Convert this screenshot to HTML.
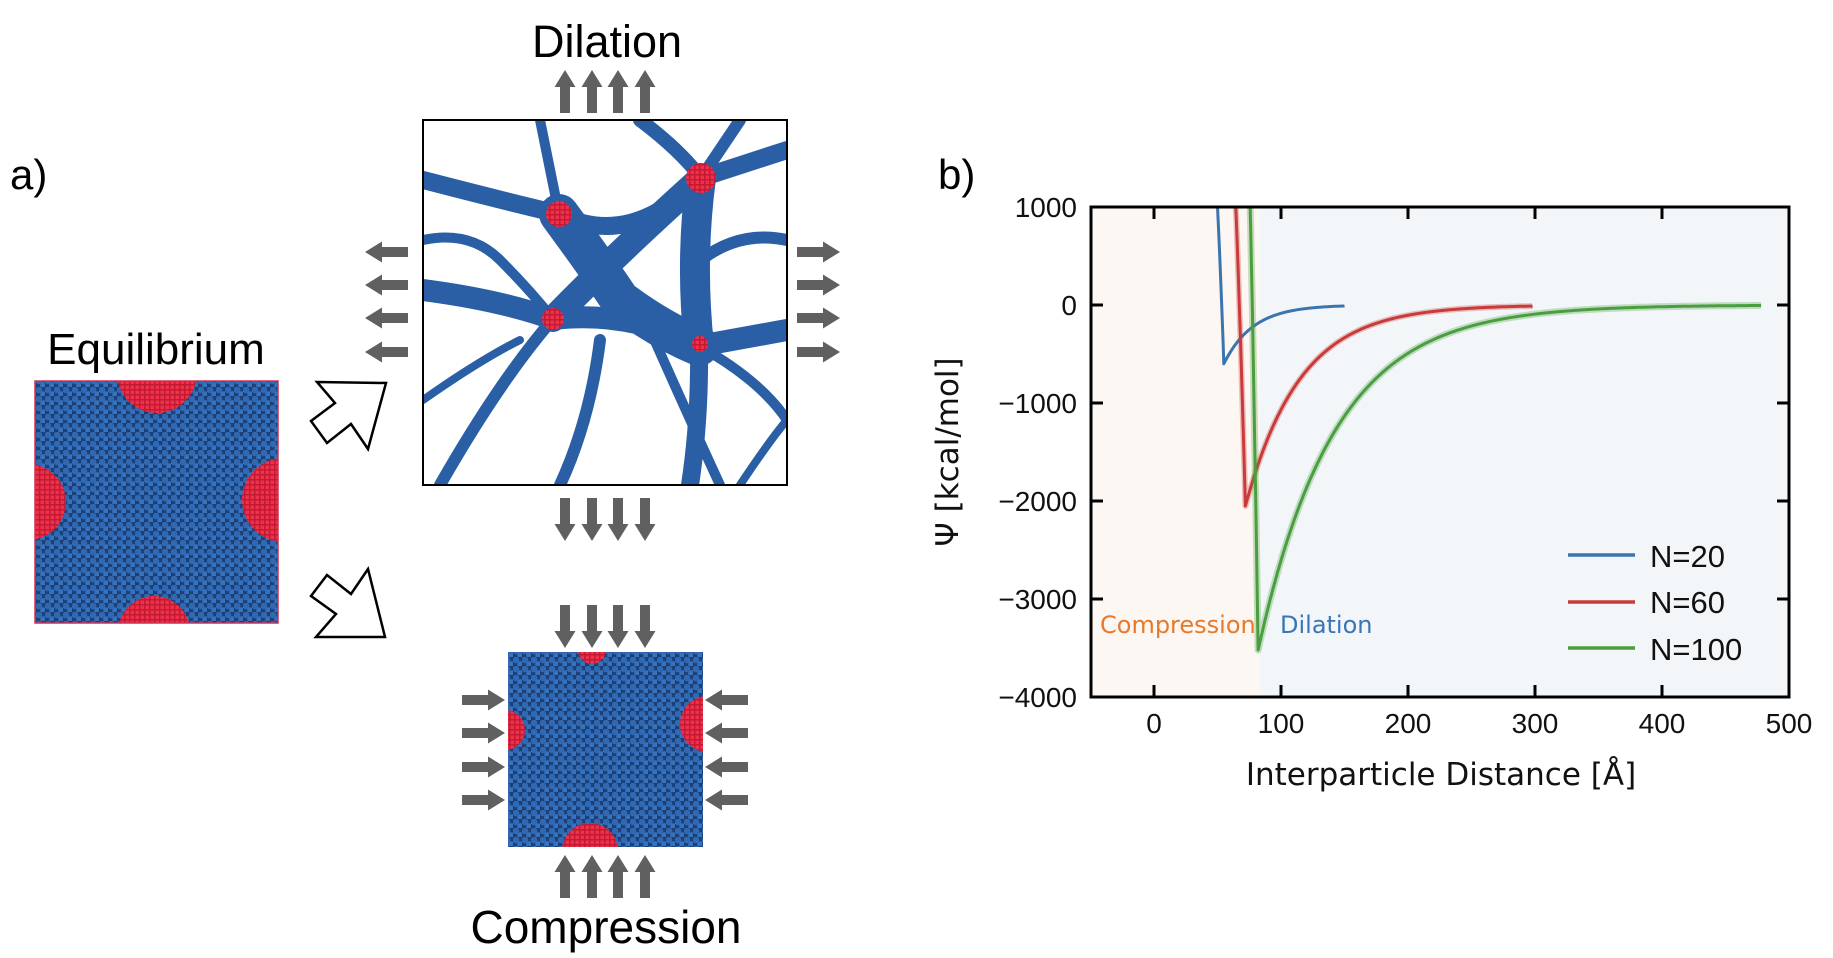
<!DOCTYPE html>
<html><head><meta charset="utf-8"><style>
html,body{margin:0;padding:0;background:#fff;}
svg{display:block;}
text{font-family:"Liberation Sans","DejaVu Sans",sans-serif;}
.t{font-family:"DejaVu Sans","Liberation Sans",sans-serif;}
</style></head><body>
<svg id="s" width="1833" height="958" viewBox="0 0 1833 958" xmlns="http://www.w3.org/2000/svg">
<defs>
<pattern id="dots" width="9" height="9" patternUnits="userSpaceOnUse">
<rect width="9" height="9" fill="#1d3f73"/>
<circle cx="3" cy="3" r="3.3" fill="#2f68b3"/>
<circle cx="7.5" cy="7.5" r="3.3" fill="#3572bf"/>
</pattern>
<pattern id="reddots" width="5" height="5" patternUnits="userSpaceOnUse">
<rect width="5" height="5" fill="#c21a35"/>
<rect x="0.5" y="0.5" width="3.5" height="3.5" fill="#ee3048"/>
</pattern>
<g id="au"><rect x="-5" y="15" width="10" height="28" fill="#606060"/><polygon points="-10.5,17 10.5,17 0,0" fill="#606060"/></g>
<clipPath id="c1"><rect x="35" y="381" width="243" height="242"/></clipPath>
<clipPath id="c2"><rect x="423" y="120" width="364" height="365"/></clipPath>
<clipPath id="c3"><rect x="508" y="652" width="195" height="195"/></clipPath>
<clipPath id="pc"><rect x="1091" y="207" width="698" height="490"/></clipPath>
</defs>

<!-- Panel a -->
<text x="10" y="189" font-size="42">a)</text>
<text x="156" y="364" font-size="44" text-anchor="middle">Equilibrium</text>
<text x="607" y="57" font-size="45" text-anchor="middle">Dilation</text>
<text x="606" y="943" font-size="46" text-anchor="middle">Compression</text>

<!-- equilibrium box -->
<g clip-path="url(#c1)">
<rect x="35" y="381" width="243" height="242" fill="url(#dots)"/>
<circle cx="157" cy="373" r="40" fill="url(#reddots)"/>
<circle cx="28" cy="502" r="38" fill="url(#reddots)"/>
<circle cx="284" cy="500" r="42" fill="url(#reddots)"/>
<circle cx="154" cy="632" r="36" fill="url(#reddots)"/>
</g>
<rect x="35" y="381" width="243" height="242" fill="none" stroke="#d03050" stroke-width="1.5"/>

<!-- dilation box -->
<rect x="423" y="120" width="364" height="365" fill="#fff"/>
<g clip-path="url(#c2)" fill="none" stroke="#2a5fa6" stroke-linecap="round">
<path d="M423 180 Q500 200 559 214 Q630 250 701 178 L787 150" stroke-width="18"/>
<path d="M423 290 Q500 300 553 319 Q630 310 699 346 L787 330" stroke-width="22"/>
<path d="M559 214 Q600 270 620 300 Q660 330 699 346" stroke-width="40"/>
<path d="M701 178 Q690 260 699 346" stroke-width="30"/>
<path d="M553 319 Q610 260 701 178" stroke-width="26"/>
<path d="M540 120 Q550 170 559 214" stroke-width="10"/>
<path d="M640 120 Q680 150 701 178" stroke-width="14"/>
<path d="M740 120 Q720 150 701 178" stroke-width="12"/>
<path d="M553 319 Q500 380 440 485" stroke-width="12"/>
<path d="M600 340 Q590 420 560 485" stroke-width="12"/>
<path d="M650 330 Q690 420 720 485" stroke-width="10"/>
<path d="M699 346 Q700 420 690 485" stroke-width="18"/>
<path d="M699 346 Q760 380 787 420" stroke-width="10"/>
<path d="M423 240 Q470 230 500 260 Q530 290 553 319" stroke-width="10"/>
<path d="M787 240 Q740 230 701 260" stroke-width="12"/>
<path d="M423 400 Q480 360 520 340" stroke-width="8"/>
<path d="M740 485 Q770 440 787 420" stroke-width="8"/>
</g>
<circle cx="559" cy="214" r="13" fill="url(#reddots)"/>
<circle cx="701" cy="178" r="15" fill="url(#reddots)"/>
<circle cx="553" cy="319" r="11" fill="url(#reddots)"/>
<circle cx="700" cy="344" r="8" fill="url(#reddots)"/>
<rect x="423" y="120" width="364" height="365" fill="none" stroke="#000" stroke-width="2"/>

<!-- compression box -->
<g clip-path="url(#c3)">
<rect x="508" y="652" width="195" height="195" fill="url(#dots)"/>
<circle cx="592" cy="650" r="14" fill="url(#reddots)"/>
<circle cx="505" cy="730" r="20" fill="url(#reddots)"/>
<circle cx="708" cy="724" r="28" fill="url(#reddots)"/>
<circle cx="590" cy="851" r="28" fill="url(#reddots)"/>
</g>

<!-- gray arrows -->
<g>
<use href="#au" x="565" y="70"/><use href="#au" x="592" y="70"/><use href="#au" x="618" y="70"/><use href="#au" x="645" y="70"/>
<use href="#au" transform="translate(565,541) rotate(180)"/><use href="#au" transform="translate(592,541) rotate(180)"/><use href="#au" transform="translate(618,541) rotate(180)"/><use href="#au" transform="translate(645,541) rotate(180)"/>
<use href="#au" transform="translate(365,252) rotate(-90)"/><use href="#au" transform="translate(365,285) rotate(-90)"/><use href="#au" transform="translate(365,318) rotate(-90)"/><use href="#au" transform="translate(365,352) rotate(-90)"/>
<use href="#au" transform="translate(840,252) rotate(90)"/><use href="#au" transform="translate(840,285) rotate(90)"/><use href="#au" transform="translate(840,318) rotate(90)"/><use href="#au" transform="translate(840,352) rotate(90)"/>
<use href="#au" transform="translate(565,648) rotate(180)"/><use href="#au" transform="translate(592,648) rotate(180)"/><use href="#au" transform="translate(618,648) rotate(180)"/><use href="#au" transform="translate(645,648) rotate(180)"/>
<use href="#au" x="565" y="855"/><use href="#au" x="592" y="855"/><use href="#au" x="618" y="855"/><use href="#au" x="645" y="855"/>
<use href="#au" transform="translate(505,700) rotate(90)"/><use href="#au" transform="translate(505,733) rotate(90)"/><use href="#au" transform="translate(505,767) rotate(90)"/><use href="#au" transform="translate(505,800) rotate(90)"/>
<use href="#au" transform="translate(705,700) rotate(-90)"/><use href="#au" transform="translate(705,733) rotate(-90)"/><use href="#au" transform="translate(705,767) rotate(-90)"/><use href="#au" transform="translate(705,800) rotate(-90)"/>
</g>

<!-- outline arrows -->
<g fill="#fff" stroke="#000" stroke-width="2.5" stroke-linejoin="miter">
<polygon points="317,382 386,383 368,449 351,424 327,443 311,421 335,403"/>
<polygon points="316,637 385,637 368,569 351,594 327,575 311,596 336,614"/>
</g>

<!-- Panel b -->
<text x="938" y="189" font-size="42">b)</text>
<g clip-path="url(#pc)">
<rect x="1091" y="207" width="169" height="490" fill="#fcf7f3"/>
<rect x="1260" y="207" width="529" height="490" fill="#f3f6f9"/>
</g>
<g id="curves" clip-path="url(#pc)" fill="none" stroke-width="3" stroke-linejoin="round"></g>
<rect x="1091" y="207" width="698" height="490" fill="none" stroke="#000" stroke-width="3"/>
<g id="ticks" stroke="#000" stroke-width="3"></g>
<g id="labels" class="t" font-size="28" fill="#111"></g>
<text class="t" x="1441" y="785" font-size="31" text-anchor="middle" fill="#111">Interparticle Distance [Å]</text>
<text class="t" transform="translate(958,452) rotate(-90)" font-size="31" text-anchor="middle" fill="#111">Ψ [kcal/mol]</text>
<text class="t" x="1100" y="633" font-size="24" fill="#e8792a">Compression</text>
<text class="t" x="1280" y="633" font-size="24" fill="#3a75b8">Dilation</text>
<g stroke-width="3.5">
<line x1="1568" y1="555" x2="1635" y2="555" stroke="#3a75b0"/>
<line x1="1568" y1="602" x2="1635" y2="602" stroke="#c93a3a"/>
<line x1="1568" y1="648" x2="1635" y2="648" stroke="#4a9e3f"/>
</g>
<g class="t" font-size="31" fill="#111">
<text x="1650" y="567">N=20</text>
<text x="1650" y="613">N=60</text>
<text x="1650" y="660">N=100</text>
</g>
</svg>
<script>
(function(){
var NS="http://www.w3.org/2000/svg";
function X(v){return 1154+v*1.27;}
function Y(v){return 305-v*0.098;}
var T=document.getElementById('ticks'),L=document.getElementById('labels'),C=document.getElementById('curves');
function el(p,tag,a,txt){var e=document.createElementNS(NS,tag);for(var k in a)e.setAttribute(k,a[k]);if(txt)e.textContent=txt;p.appendChild(e);return e;}
[0,100,200,300,400,500].forEach(function(v){var x=X(v);
 if(v<500){el(T,'line',{x1:x,y1:697,x2:x,y2:685});el(T,'line',{x1:x,y1:207,x2:x,y2:219});}
 el(L,'text',{x:x,y:733,'text-anchor':'middle'},String(v));});
[1000,0,-1000,-2000,-3000,-4000].forEach(function(v){var y=Y(v);
 if(v<1000&&v>-4000){el(T,'line',{x1:1091,y1:y,x2:1103,y2:y});el(T,'line',{x1:1789,y1:y,x2:1777,y2:y});}
 el(L,'text',{x:1077,y:y+10,'text-anchor':'end'},(v<0?'\u2212'+(-v):String(v)));});
function curve(x0,xm,D,lam,xe,col,w){
 var p=[];
 p.push([x0,1100]);
 for(var i=1;i<=10;i++){var t=i/10;var x=x0+(xm-x0)*t;var y=1100-(1100+D)*Math.pow(t,1.15);p.push([x,y]);}
 for(var x=xm+0.5;x<=xe;x+=0.5){p.push([x,-D*Math.exp(-(x-xm)/lam)]);}
 var d=p.map(function(q,i){return (i?'L':'M')+X(q[0]).toFixed(1)+' '+Y(q[1]).toFixed(1);}).join(' ');
 if(w) el(C,'path',{d:d,stroke:col,'stroke-width':w,'stroke-opacity':0.3});
 el(C,'path',{d:d,stroke:col});
}
curve(49.5,55,600,23,150,'#3a75b0');
curve(64,72,2050,43,298,'#c93a3a',6);
curve(75.5,82,3520,60,478,'#4a9e3f',7);
})();
</script>
</body></html>
